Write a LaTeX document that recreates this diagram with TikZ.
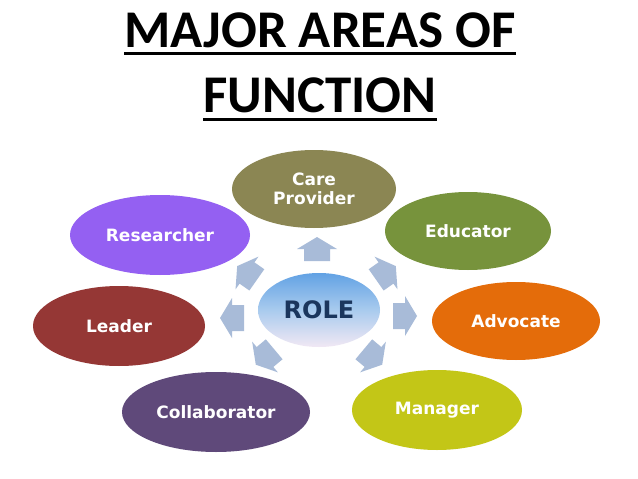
\documentclass[tikz,border=0pt]{standalone}
\usepackage{fontspec}
\setmainfont{Carlito}
\newfontfamily\lblfont{DejaVu Sans}
\usetikzlibrary{shapes.geometric}
\definecolor{CareC}{HTML}{8B8653}
\definecolor{EduC}{HTML}{77933C}
\definecolor{ResC}{HTML}{9460F2}
\definecolor{LeadC}{HTML}{953735}
\definecolor{AdvC}{HTML}{E46C0A}
\definecolor{ColC}{HTML}{5F497A}
\definecolor{ManC}{HTML}{C3C617}
\definecolor{ArrowC}{HTML}{A8BBD8}
\definecolor{RoleTop}{HTML}{62A2E4}
\definecolor{RoleMid}{HTML}{A9CBEE}
\definecolor{RoleBot}{HTML}{F1E8F4}
\definecolor{RoleText}{HTML}{1B365D}
\begin{document}
\begin{tikzpicture}[x=1pt,y=1pt,
  oval/.style={ellipse, inner sep=0pt, draw=none, font=\lblfont\bfseries\fontsize{17}{19}\selectfont, text=white, align=center},
  titletext/.style={font=\bfseries\fontsize{53}{60}\selectfont, inner sep=0pt, anchor=base},
  blockarrow/.style={fill=ArrowC, draw=none}]
\useasboundingbox[fill=white] (0,0) rectangle (638,-479);
% title
\node[titletext] (t1) at (320,-47) {MAJOR AREAS OF};
\node[titletext] (t2) at (320,-112) {FUNCTION};
\draw[line width=3pt] ([yshift=-6.5pt]t1.base west) -- ([yshift=-6.5pt]t1.base east);
\draw[line width=3pt] ([yshift=-7pt]t2.base west) -- ([yshift=-7pt]t2.base east);
% outer ellipses
\node[oval, fill=CareC, minimum width=164pt, minimum height=78pt] (care) at (314,-189) {Care\\Provider};
\node[oval, fill=EduC, minimum width=166pt, minimum height=78pt] (edu) at (468,-231) {Educator};
\node[oval, fill=ResC, minimum width=180pt, minimum height=80pt] (res) at (160,-235) {Researcher};
\node[oval, fill=LeadC, minimum width=172pt, minimum height=80pt] (lead) at (119,-326) {Leader};
\node[oval, fill=AdvC, minimum width=168pt, minimum height=78pt] (adv) at (516,-321) {Advocate};
\node[oval, fill=ColC, minimum width=188pt, minimum height=80pt] (col) at (216,-412) {Collaborator};
\node[oval, fill=ManC, minimum width=170pt, minimum height=80pt] (man) at (437,-410) {Manager};
% centre
\node[ellipse, inner sep=0pt, top color=RoleTop, bottom color=RoleBot, middle color=RoleMid,
      minimum width=122pt, minimum height=74pt, text=RoleText,
      font=\lblfont\bfseries\fontsize{24}{28}\selectfont] (role) at (319,-310) {ROLE};
% block arrows
\foreach \px/\py/\ang in {317/249/90, 386/273/35, 405/316/0, 373/357/-40, 265/357/-140, 232/318/180, 247/273/145}{
  \fill[blockarrow, shift={(\px,-\py)}, rotate=\ang]
    (-12,-13) -- (0,-13) -- (0,-20) -- (12,0) -- (0,20) -- (0,13) -- (-12,13) -- cycle;
}
\end{tikzpicture}
\end{document}
